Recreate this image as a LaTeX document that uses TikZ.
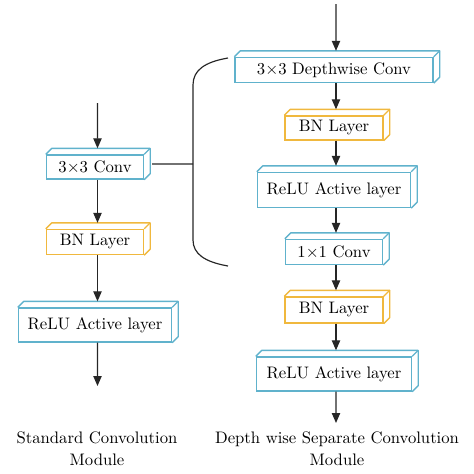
\documentclass[tikz,border=0pt]{standalone}
\usepackage{amsmath}
\usepackage{tikz}
\usetikzlibrary{arrows.meta,positioning}

\definecolor{convblue}{RGB}{96,178,204}
\definecolor{bnorange}{RGB}{240,184,62}

\begin{document}
\begin{tikzpicture}[x=0.6pt,y=-0.6pt]
    \tikzset{
      layer/.style={draw,rectangle,line width=0.8pt,inner sep=0pt,fill=white,
        font=\fontsize{10}{12}\selectfont},
      bluebox/.style={layer,draw=convblue},
      orangebox/.style={layer,draw=bnorange},
      flow/.style={draw,-{Triangle[length=6pt,width=5pt]},draw=black!85,line width=0.7pt},
      caption/.style={align=center,font=\fontsize{10}{13.2}\selectfont}
    }
    \useasboundingbox (0,0) rectangle (474,474);
    % standard module
    \node[bluebox,minimum width=58.2pt,minimum height=14.4pt] (conv) at (95,167) {3$\times$3 Conv};
    \node[orangebox,minimum width=58.2pt,minimum height=15pt] (bn) at (95,242) {BN Layer};
    \node[bluebox,minimum width=91.8pt,minimum height=20.4pt] (relu) at (95,325) {ReLU Active layer};
    % separable module
    \node[bluebox,minimum width=118.8pt,minimum height=15pt] (dw) at (334,70) {3$\times$3 Depthwise Conv};
    \node[orangebox,minimum width=58.8pt,minimum height=14.4pt] (bnA) at (334,128) {BN Layer};
    \node[bluebox,minimum width=91.8pt,minimum height=21pt] (reluA) at (334,190) {ReLU Active layer};
    \node[bluebox,minimum width=58.2pt,minimum height=15pt] (pw) at (334,252) {1$\times$1 Conv};
    \node[orangebox,minimum width=58.8pt,minimum height=15.6pt] (bnB) at (334,310) {BN Layer};
    \node[bluebox,minimum width=93pt,minimum height=20.4pt] (reluB) at (334,374) {ReLU Active layer};

    % box depth
    \foreach \n/\c in {conv/convblue,bn/bnorange,relu/convblue,dw/convblue,bnA/bnorange,
                       reluA/convblue,pw/convblue,bnB/bnorange,reluB/convblue}{
      \draw[\c,line width=0.8pt,line join=round] (\n.north west) -- ++(3.6pt,3.6pt)
        -- ([shift={(3.6pt,3.6pt)}]\n.north east) -- ([shift={(3.6pt,3.6pt)}]\n.south east)
        -- (\n.south east);
      \draw[\c,line width=0.8pt] (\n.north east) -- ++(3.6pt,3.6pt);
    }

    \coordinate (inL) at (97.5,103);
    \coordinate (outL) at (97.5,386);
    \coordinate (inR) at (336,4);
    \coordinate (outR) at (336,423);

    \path[every edge/.style={flow}]
    (inL) edge ([shift={(1.5pt,3.6pt)}]conv.north)
    ([xshift=1.5pt]conv.south) edge ([shift={(1.5pt,3.6pt)}]bn.north)
    ([xshift=1.5pt]bn.south) edge ([shift={(1.5pt,3.6pt)}]relu.north)
    ([xshift=1.5pt]relu.south) edge (outL)
    (inR) edge ([shift={(1.2pt,3.6pt)}]dw.north)
    ([xshift=1.2pt]dw.south) edge ([shift={(1.2pt,3.6pt)}]bnA.north)
    ([xshift=1.2pt]bnA.south) edge ([shift={(1.2pt,3.6pt)}]reluA.north)
    ([xshift=1.2pt]reluA.south) edge ([shift={(1.2pt,3.6pt)}]pw.north)
    ([xshift=1.2pt]pw.south) edge ([shift={(1.2pt,3.6pt)}]bnB.north)
    ([xshift=1.2pt]bnB.south) edge ([shift={(1.2pt,3.6pt)}]reluB.north)
    ([xshift=1.2pt]reluB.south) edge (outR)
    ;

    % brace
    \coordinate (bt) at (228,58);
    \coordinate (bb) at (228,266);
    \coordinate (bm) at (193,164);
    \draw[black!85,line width=0.7pt] (bt) .. controls (205,62) and (193,70) .. (193,85)
      -- (193,240) .. controls (193,254) and (205,262) .. (bb);
    \draw[black!85,line width=0.7pt] ([shift={(4.8pt,1.8pt)}]conv.east) -- (bm);

    \node[caption] (capL) at (97,449) {Standard Convolution\\Module};
    \node[caption] (capR) at (337,449) {Depth wise Separate Convolution\\Module};
\end{tikzpicture}
\end{document}
